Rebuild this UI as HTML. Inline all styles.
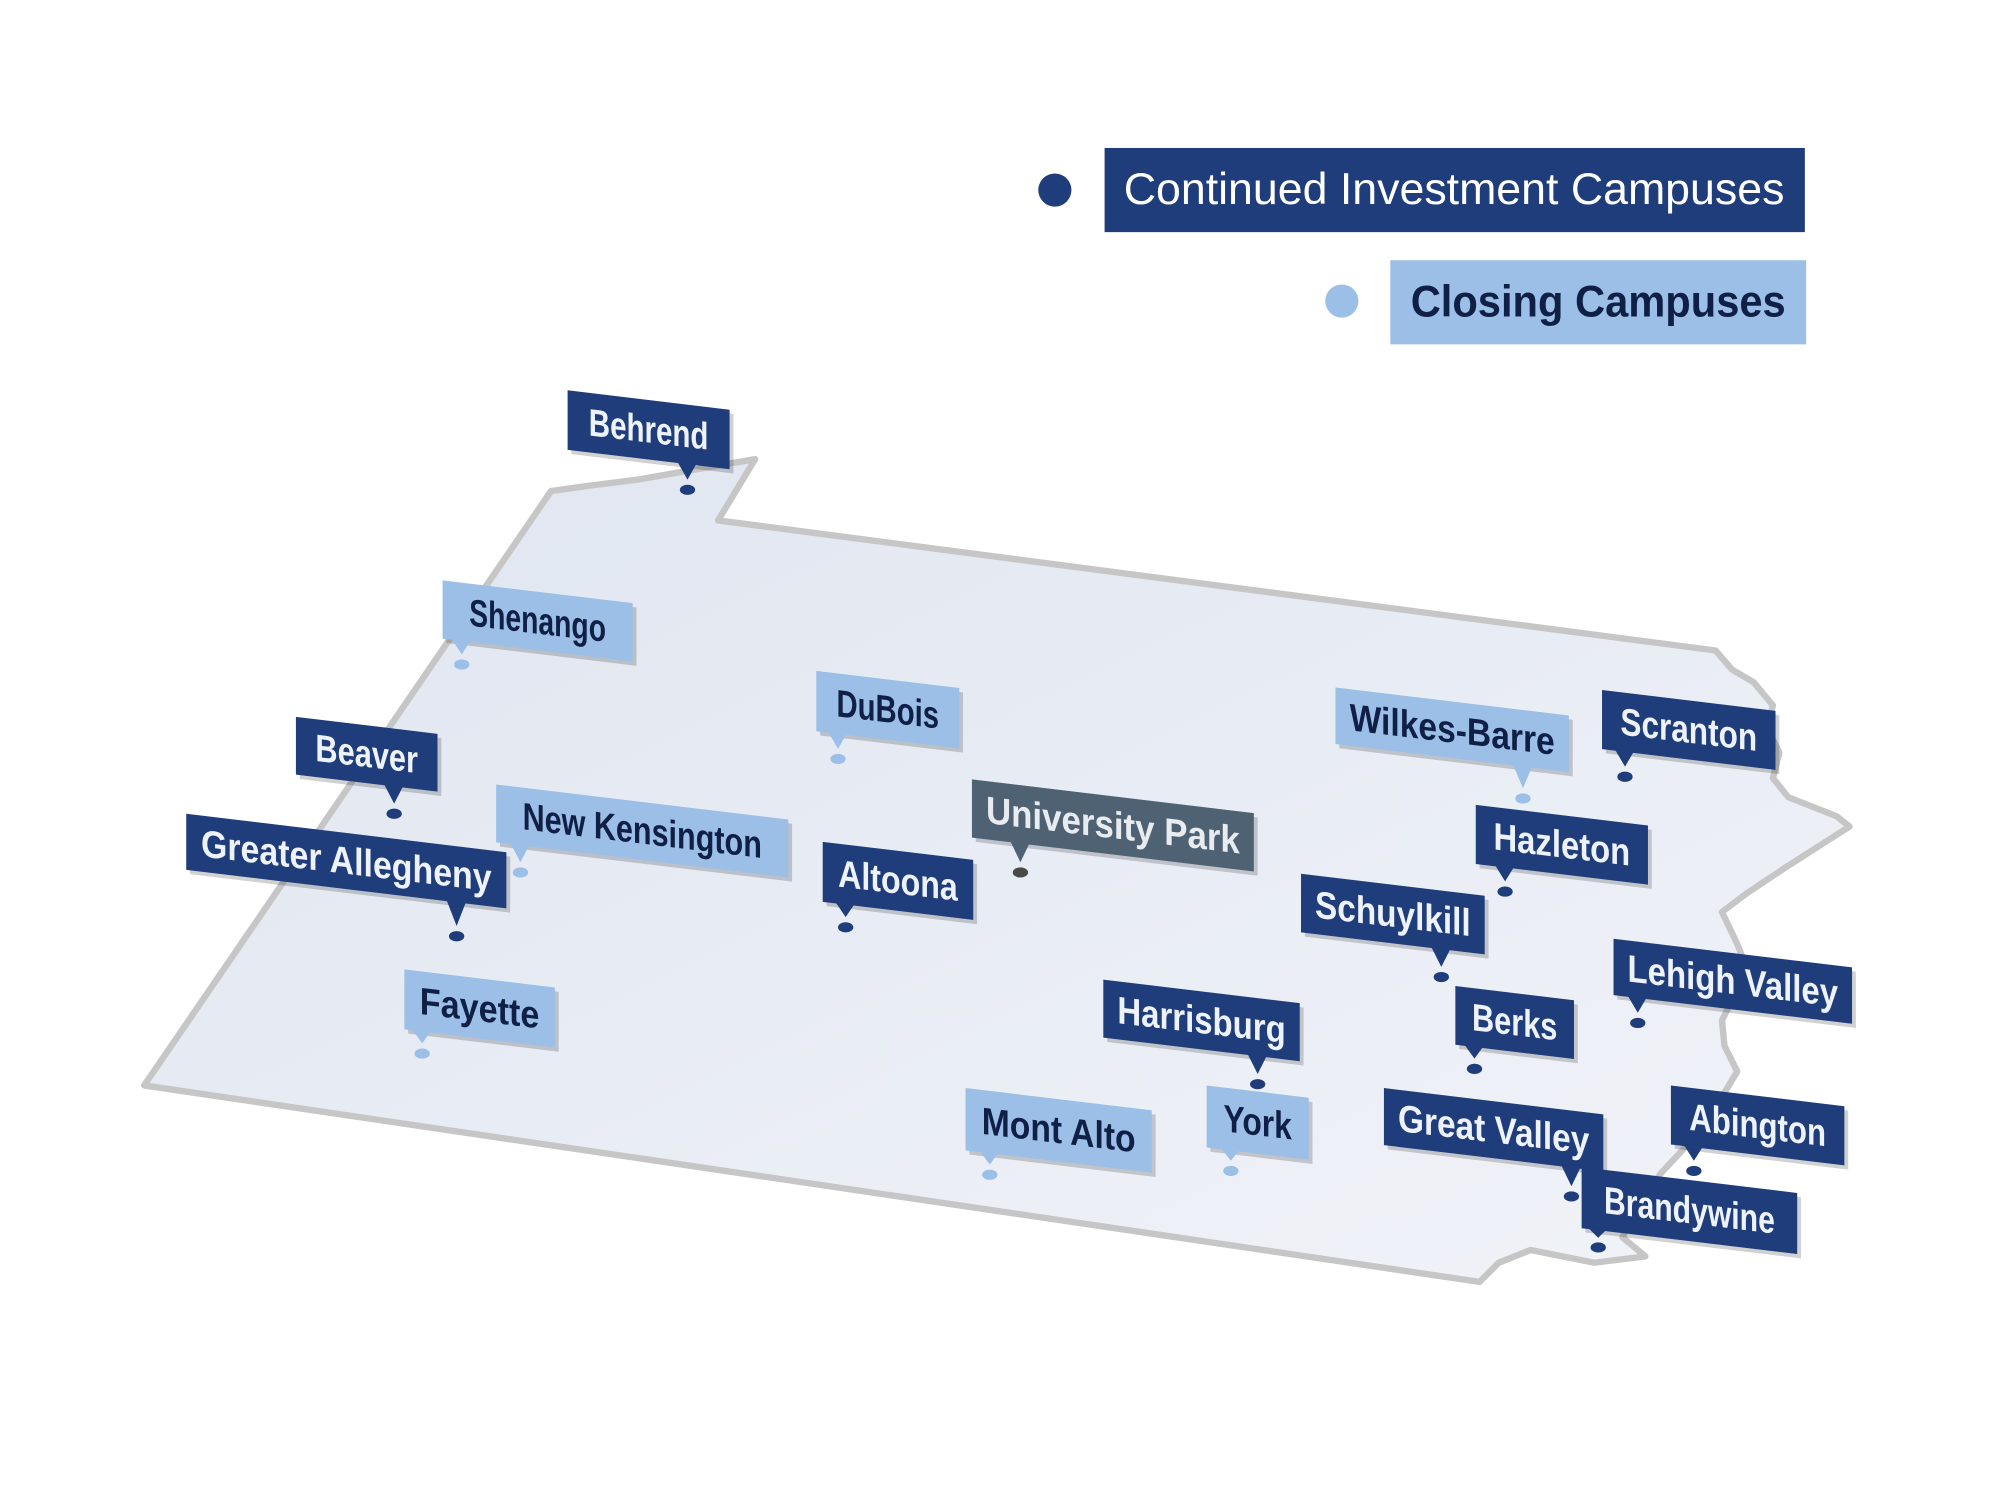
<!DOCTYPE html>
<html><head><meta charset="utf-8"><style>
html,body{margin:0;padding:0;background:#fff}
svg{display:block}
text{font-family:"Liberation Sans Narrow","Liberation Sans",sans-serif;font-weight:bold}
</style></head><body>
<svg width="2000" height="1500" viewBox="0 0 1568 1176" xmlns="http://www.w3.org/2000/svg">
<defs>
<linearGradient id="g" x1="0" y1="0" x2="1" y2="1">
<stop offset="0" stop-color="#dfe5f0"/><stop offset="1" stop-color="#f1f3f8"/>
</linearGradient>
</defs>
<rect width="1568" height="1176" fill="#fff"/>
<path d="M113,851 L432,385 L460,381 L500,376 L540,369 L592,360 L563,408 L1345,510 L1358,525 L1375,535 L1390,553 L1385,570 L1395,590 L1390,610 L1402,625 L1440,640 L1450,648 L1400,680 L1370,700 L1350,715 L1362,740 L1370,760 L1360,780 L1350,800 L1352,820 L1362,840 L1350,860 L1330,890 L1302,920 L1282,950 L1272,970 L1290,985 L1250,990 L1200,980 L1175,990 L1160,1005 Z" fill="url(#g)" stroke="#c6c6c6" stroke-width="5" stroke-linejoin="round"/>

<circle cx="827" cy="149" r="13" fill="#1f3d7a"/>
<rect x="866" y="116" width="549" height="66" fill="#1f3d7a"/>
<text x="1140" y="160" font-size="35" fill="#fff" text-anchor="middle" textLength="518" lengthAdjust="spacingAndGlyphs" style="font-weight:normal">Continued Investment Campuses</text>
<circle cx="1052" cy="236" r="13" fill="#9bbfe6"/>
<rect x="1090" y="204" width="326" height="66" fill="#9bbfe6"/>
<text x="1253" y="248" font-size="35" fill="#0f1f45" text-anchor="middle" textLength="294" lengthAdjust="spacingAndGlyphs">Closing Campuses</text>

<g id="labels"></g>
</svg>
<script>
var L=[
["Behrend",445,306,127,52,539,384,"d"],
["Shenango",347,455,149,52,362,521,"l"],
["Beaver",232,562,111,50,309,638,"d"],
["Greater Allegheny",146,638,251,52,358,734,"d"],
["New Kensington",389,615,229,55,408,684,"l"],
["Fayette",317,760,118,52,331,826,"l"],
["DuBois",640,526,112,52,657,595,"l"],
["Altoona",645,660,118,52,663,727,"d"],
["University Park",762,611,221,55,800,684,"g"],
["Wilkes-Barre",1047,539,183,52,1194,626,"l"],
["Scranton",1256,541,136,52,1274,609,"d"],
["Hazleton",1157,631,135,52,1180,699,"d"],
["Schuylkill",1020,685,144,52,1130,766,"d"],
["Lehigh Valley",1265,736,187,52,1284,802,"d"],
["Harrisburg",865,768,154,52,986,850,"d"],
["Berks",1141,773,93,50,1156,838,"d"],
["York",946,851,80,52,965,918,"l"],
["Mont Alto",757,853,146,55,776,921,"l"],
["Great Valley",1085,853,172,52,1232,938,"d"],
["Abington",1310,851,136,52,1328,918,"d"],
["Brandywine",1240,915,169,55,1253,978,"d"]
];
var C={d:["#1f3d7a","#eef2fa","#1f3d7a"],l:["#9bbfe6","#0f1f45","#9bbfe6"],g:["#4f6273","#e8ecf0","#4a4a4a"]};
var g=document.getElementById("labels"),h="";
L.forEach(function(a){
 var t=a[0],x=a[1],y=a[2],w=a[3],hh=a[4],dx=a[5],dy=a[6],c=C[a[7]];
 var k=0.12;
 var bh=hh-(w*k)*0.35; if(bh<44)bh=44;
 var px=dx-x; var by=y+bh+px*k;
 h+='<ellipse cx="'+dx+'" cy="'+dy+'" rx="6" ry="4" fill="'+c[2]+'"/>';
 h+='<g transform="translate('+x+','+y+') matrix(1,'+k+',0,1,0,0)">';
 h+='<rect x="3" y="3" width="'+w+'" height="'+bh+'" fill="#000" opacity="0.18"/>';
 h+='<rect x="0" y="0" width="'+w+'" height="'+bh+'" fill="'+c[0]+'"/>';
 var tl=Math.min(t.length*13.4,w-22);
 h+='<text x="'+(w/2)+'" y="'+(bh/2+10)+'" font-size="30" fill="'+c[1]+'" text-anchor="middle" textLength="'+tl+'" lengthAdjust="spacingAndGlyphs">'+t+'</text>';
 h+='</g>';
 var tip=Math.max(by+6,dy-8);
 h+='<polygon points="'+(dx-8)+','+(by-2)+' '+(dx+8)+','+(by-2)+' '+dx+','+tip+'" fill="'+c[0]+'"/>';
});
g.innerHTML=h;
</script>
</body></html>
